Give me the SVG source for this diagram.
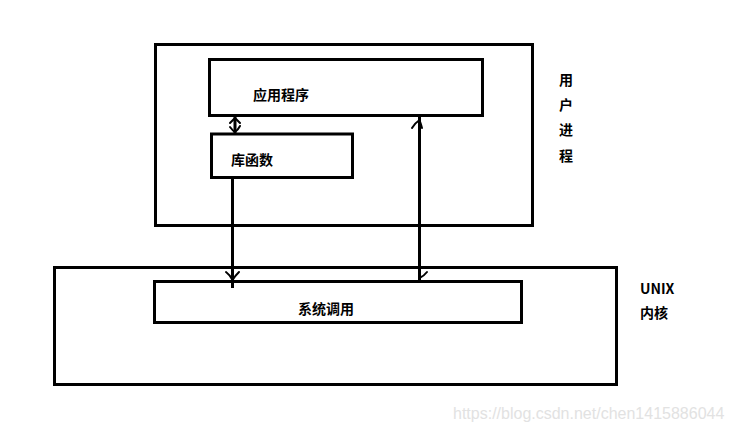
<svg xmlns="http://www.w3.org/2000/svg" width="732" height="432" viewBox="0 0 732 432">
<style>
.box{fill:none;stroke:#000;stroke-width:3}
.ln{fill:none;stroke:#000;stroke-width:3}
.hd{fill:none;stroke:#000;stroke-width:2;stroke-linecap:round}
.t{font-family:"Noto Sans CJK SC","Liberation Sans",sans-serif;font-size:14px;font-weight:bold;fill:#000}
.wm{font-family:"Liberation Sans",Arial,sans-serif;font-size:16px;fill:#e2e2e2}
</style>
<rect width="732" height="432" fill="#fff"/>
<g id="user-process">
<rect class="box" x="155.5" y="44.5" width="377" height="181"/>
<text class="t" x="566" y="85" text-anchor="middle">用</text>
<text class="t" x="566" y="110" text-anchor="middle">户</text>
<text class="t" x="566" y="135" text-anchor="middle">进</text>
<text class="t" x="566" y="161" text-anchor="middle">程</text>
</g>
<g id="app">
<rect class="box" x="209.5" y="59.5" width="273" height="56"/>
<text class="t" x="281" y="100" text-anchor="middle">应用程序</text>
</g>
<g id="lib">
<rect class="box" x="211.5" y="134" width="141" height="43.5"/>
<text class="t" x="252" y="165" text-anchor="middle">库函数</text>
</g>
<g id="kernel">
<rect class="box" x="54.5" y="267.5" width="562" height="117"/>
<text class="t" x="640" y="294">UNIX</text>
<text class="t" x="640" y="318">内核</text>
</g>
<g id="syscall">
<rect class="box" x="154.5" y="281.5" width="367" height="41"/>
<text class="t" x="326" y="314" text-anchor="middle">系统调用</text>
</g>
<g id="connectors">
<line class="ln" x1="235" y1="117" x2="235" y2="133"/>
<path class="hd" d="M230 123 L235 118 L240 123"/>
<path class="hd" d="M230 127 Q233 131 235 132 Q238 130 240 126"/>
<line class="ln" x1="232.5" y1="178" x2="232.5" y2="288"/>
<path class="hd" d="M226 272 Q230 275 232.5 280 Q235 276 239 272"/>
<line class="ln" x1="419.5" y1="116" x2="419.5" y2="281"/>
<path class="hd" d="M412 128 Q415 123 419.5 120 Q421 124 422 128"/>
<path class="hd" d="M419.5 278 Q424 276 427 272"/>
</g>
<text class="wm" x="453" y="419">https://blog.csdn.net/chen1415886044</text>
</svg>
